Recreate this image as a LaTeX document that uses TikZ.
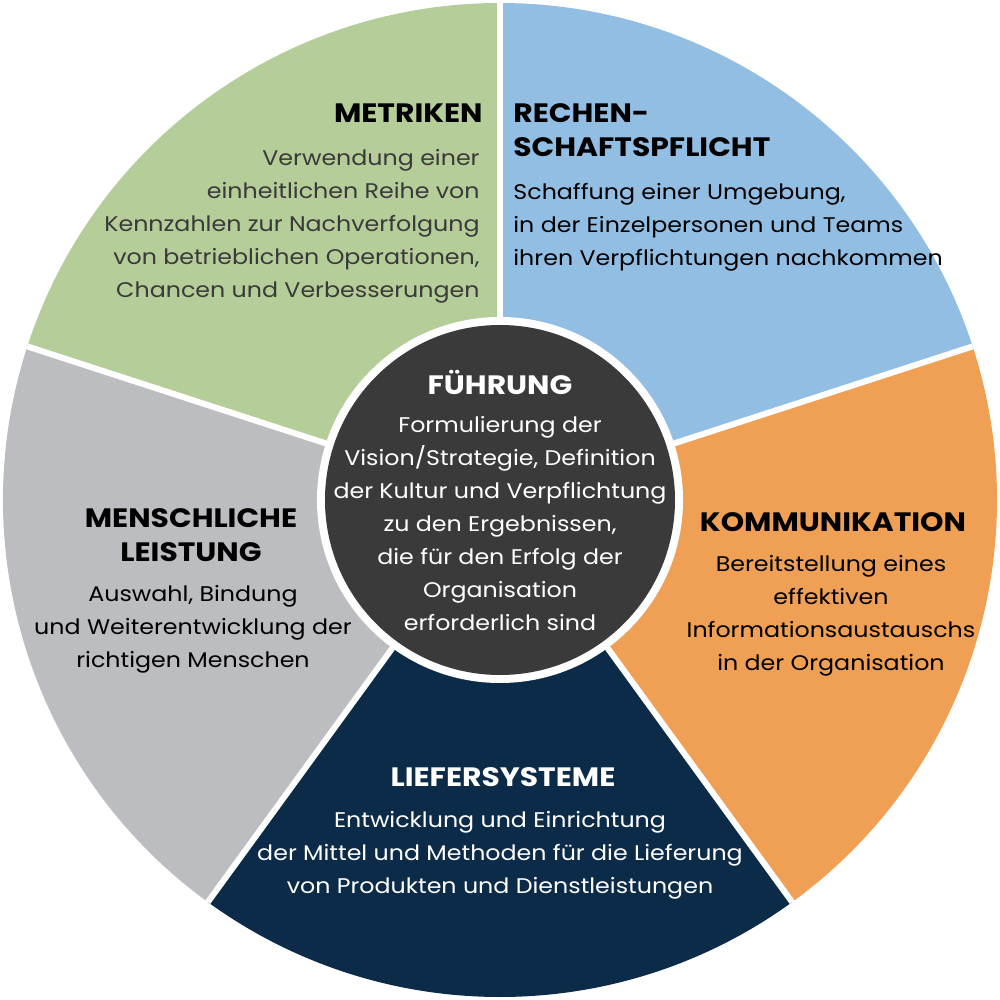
\documentclass[tikz,border=0pt]{standalone}
\usepackage{fontspec}
\setmainfont{Poppins}[FakeStretch=1.12]
\usepackage{tikz}
\usetikzlibrary{positioning}

\definecolor{metgreen}{HTML}{B5CD98}
\definecolor{accblue}{HTML}{93BEE4}
\definecolor{komorange}{HTML}{F0A054}
\definecolor{liefnavy}{HTML}{0C2B48}
\definecolor{menschgray}{HTML}{BCBDC1}
\definecolor{hubdark}{HTML}{3A3A3A}
\definecolor{bodygray}{HTML}{3A3A3A}

\begin{document}
\begin{tikzpicture}[
   x=.5pt,y=.5pt,
   every node/.style={inner sep=0pt},
   head/.style={font=\fontsize{13.3}{17}\selectfont\bfseries},
   body/.style={font=\fontsize{10.6}{16.5}\selectfont},
   sep/.style={white,line width=3pt}
 ]
  \useasboundingbox (-500,-500) rectangle (500,500);
  \def\outr{248.5pt}

  % The five sectors of the wheel.
  \fill[accblue]    (0,0) -- (18:\outr)   arc[start angle=18,end angle=90,radius=\outr] -- cycle;
  \fill[metgreen]   (0,0) -- (90:\outr)   arc[start angle=90,end angle=162,radius=\outr] -- cycle;
  \fill[menschgray] (0,0) -- (162:\outr)  arc[start angle=162,end angle=234,radius=\outr] -- cycle;
  \fill[liefnavy]   (0,0) -- (234:\outr)  arc[start angle=234,end angle=306,radius=\outr] -- cycle;
  \fill[komorange]  (0,0) -- (306:\outr)  arc[start angle=306,end angle=378,radius=\outr] -- cycle;

  % White gaps between the sectors.
  \foreach \a in {18,90,162,234,306}
    \draw[sep] (0,0) -- (\a:\outr);

  % The hub, with its white ring.
  \fill[white]   (0,0) circle[radius=91.5pt];
  \fill[hubdark] (0,0) circle[radius=87.5pt];

  % Metriken (right aligned against the vertical gap).
  \node[head,anchor=east,align=right] (methead) at (-17,387) {METRIKEN};
  \node[body,anchor=east,align=right,text=bodygray] (metbody) at (-20,274)
    {Verwendung einer\\einheitlichen Reihe von\\Kennzahlen zur Nachverfolgung\\
     von betrieblichen Operationen,\\Chancen und Verbesserungen};

  % Rechenschaftspflicht (left aligned).
  \node[head,anchor=west,align=left] (acchead) at (13,370) {RECHEN-\\SCHAFTSPFLICHT};
  \node[body,anchor=west,align=left] (accbody) at (13,273)
    {Schaffung einer Umgebung,\\in der Einzelpersonen und Teams\\ihren Verpflichtungen nachkommen};

  % Kommunikation.
  \node[head] (komhead) at (333,-22) {KOMMUNIKATION};
  \node[body,align=center] (kombody) at (331,-116)
    {Bereitstellung eines\\effektiven\\Informationsaustauschs\\in der Organisation};

  % Liefersysteme.
  \node[head,text=white] (liefhead) at (3,-277) {LIEFERSYSTEME};
  \node[body,align=center,text=white] (liefbody) at (0,-355)
    {Entwicklung und Einrichtung\\der Mittel und Methoden für die Lieferung\\
     von Produkten und Dienstleistungen};

  % Menschliche Leistung.
  \node[head,align=center] (menhead) at (-309,-35) {MENSCHLICHE\\LEISTUNG};
  \node[body,align=center] (menbody) at (-307,-129)
    {Auswahl, Bindung\\und Weiterentwicklung der\\richtigen Menschen};

  % Fuehrung in the hub.
  \node[head,text=white] (hubhead) at (0,118) {FÜHRUNG};
  \node[body,align=center,text=white] (hubbody) at (0,-24)
    {Formulierung der\\Vision/Strategie, Definition\\der Kultur und Verpflichtung\\
     zu den Ergebnissen,\\die für den Erfolg der\\Organisation\\erforderlich sind};
\end{tikzpicture}
\end{document}
